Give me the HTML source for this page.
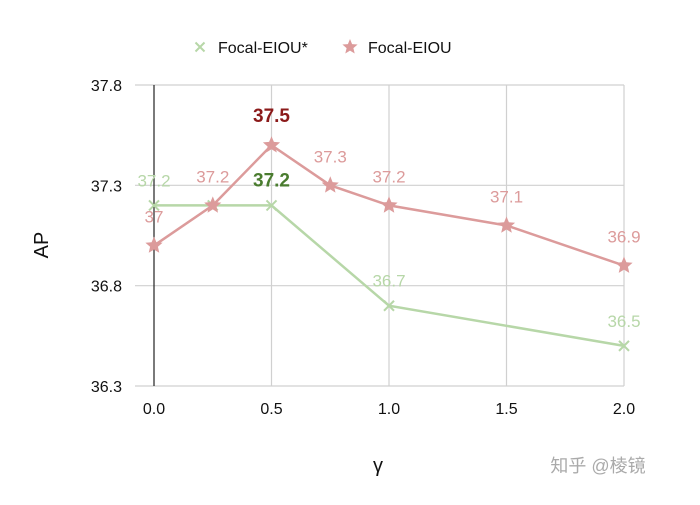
<!DOCTYPE html>
<html><head><meta charset="utf-8"><style>
body{margin:0;background:#fff;font-family:"Liberation Sans","Noto Sans CJK SC",sans-serif}
</style></head><body>
<svg id="c" width="700" height="500" xmlns="http://www.w3.org/2000/svg" font-family="Liberation Sans, Noto Sans CJK SC, sans-serif"></svg>
<script>
const xTicks=[0,0.5,1.0,1.5,2.0];
const yTicks=[36.3,36.8,37.3,37.8];
const greenX=[0,0.25,0.5,1.0,2.0];
const greenY=[37.2,37.2,37.2,36.7,36.5];
const greenLabels=["37.2","","37.2","36.7","36.5"];
const redX=[0,0.25,0.5,0.75,1.0,1.5,2.0];
const redY=[37.0,37.2,37.5,37.3,37.2,37.1,36.9];
const redLabels=["37","37.2","37.5","37.3","37.2","37.1","36.9"];
const X=v=>154+(v-0)/2*470;
const Y=v=>386-(v-36.3)/1.5*301;
const svg=document.getElementById('c');
const NS="http://www.w3.org/2000/svg";
function mk(t,a,txt){const e=document.createElementNS(NS,t);for(const k in a)e.setAttribute(k,a[k]);if(txt!==undefined)e.textContent=txt;svg.appendChild(e);return e;}
yTicks.forEach(t=>{
 const l=mk('line',{x1:135,x2:624,y1:Y(t),y2:Y(t),stroke:'#d0d0d0','stroke-width':1.2});
 
 
 const tx=mk('text',{x:122,y:Y(t)+6,'text-anchor':'end','font-size':16,fill:'#111'},t.toFixed(1));
 
 
});
xTicks.forEach(t=>{
 const l=mk('line',{x1:X(t),x2:X(t),y1:85,y2:386,stroke:t===0?'#222':'#d0d0d0','stroke-width':1.2});
 
 
 const tx=mk('text',{x:X(t),y:414,'text-anchor':'middle','font-size':16,fill:'#111'},t.toFixed(1));
 
 
});
const at=mk('text',{x:48,y:245,'text-anchor':'middle','font-size':20,fill:'#111',transform:'rotate(-90 48 245)'},'AP');


const xt=mk('text',{x:378,y:472,'text-anchor':'middle','font-size':20,fill:'#111'},'γ');


function star(cx,cy,r,col){let p=[];for(let i=0;i<10;i++){const rr=i%2?r*0.45:r;const a=-Math.PI/2+i*Math.PI/5;p.push((cx+rr*Math.cos(a)).toFixed(1)+','+(cy+rr*Math.sin(a)).toFixed(1));}return mk('polygon',{points:p.join(' '),fill:col});}
function cross(cx,cy,r,col){return mk('path',{d:`M${cx-r},${cy-r}L${cx+r},${cy+r}M${cx-r},${cy+r}L${cx+r},${cy-r}`,stroke:col,'stroke-width':2});}
const G='#b7d7a8',R='#dc9b9b';
const gl=mk('polyline',{points:greenX.map((x,i)=>X(x)+','+Y(greenY[i])).join(' '),fill:'none',stroke:G,'stroke-width':2.5});


greenX.forEach((x,i)=>{const m=cross(X(x),Y(greenY[i]),5,G);
 
 });
const rl=mk('polyline',{points:redX.map((x,i)=>X(x)+','+Y(redY[i])).join(' '),fill:'none',stroke:R,'stroke-width':2.5});


redX.forEach((x,i)=>{const m=star(X(x),Y(redY[i]),9,R);
 
 });
greenX.forEach((x,i)=>{if(!greenLabels[i])return;const b=x===0.5;
 const t=mk('text',{x:X(x),y:Y(greenY[i])-19,'text-anchor':'middle','font-size':b?19:17,'font-weight':b?'bold':'normal',fill:b?'#4a7c2f':G},greenLabels[i]);
 
 });
redX.forEach((x,i)=>{const b=x===0.5;
 const t=mk('text',{x:X(x),y:Y(redY[i])-23,'text-anchor':'middle','font-size':b?19:17,'font-weight':b?'bold':'normal',fill:b?'#8b1a1a':R},redLabels[i]);
 
 });
const lg1=cross(200,47,4.5,G);


const lt1=mk('text',{x:218,y:53,'font-size':16,fill:'#111'},'Focal-EIOU*');


const lg2=star(350,47,8,R);


const lt2=mk('text',{x:368,y:53,'font-size':16,fill:'#111'},'Focal-EIOU');


const wm=mk('text',{x:598,y:472,'text-anchor':'middle','font-size':18,fill:'#aaa'},'知乎 @棱镜');


</script>
</body></html>
